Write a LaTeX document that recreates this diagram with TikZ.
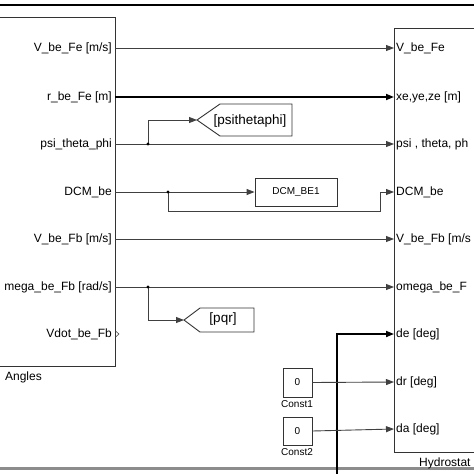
\documentclass[tikz,border=0pt]{standalone}
\usepackage{fontspec}
\setmainfont{Liberation Sans}
\usetikzlibrary{arrows.meta}
\begin{document}
\begin{tikzpicture}[x=1pt,y=-1pt,
  sig/.style={draw=black!75, line width=0.9pt, -{Triangle[length=8pt,width=6pt]}},
  vsig/.style={draw=black, line width=1.7pt, -{Triangle[length=8pt,width=6pt]}},
  wire/.style={draw=black!75, line width=0.9pt},
  block/.style={draw=black!80, line width=0.9pt, inner sep=0pt},
  plab/.style={inner sep=0pt, font=\fontsize{12}{14}\selectfont},
  slab/.style={inner sep=0pt, font=\fontsize{10}{12}\selectfont},
  glab/.style={inner sep=0pt, font=\fontsize{13.5}{15}\selectfont},
  dot/.style={fill=black, draw=none}
]
\useasboundingbox (0,0) rectangle (474,474);
\clip (0,0) rectangle (474,474);
\fill[white] (0,0) rectangle (474,474);

% frame lines
\draw[black, line width=1.2pt] (-5,5) -- (480,5);
\draw[black!45, line width=2.5pt] (-5,468.5) -- (480,468.5);

% blocks
\node[block, minimum width=135pt, minimum height=349pt] (L) at (47.5,191.5) {};
\node[block, minimum width=120pt, minimum height=424pt] (R) at (454,240) {};
\node[plab, anchor=east] (Lname) at (42,377) {Angles};
\node[plab, anchor=west] (Rname) at (419,463) {Hydrostat};

% left port labels
\node[plab, anchor=east] (l1) at (112,48) {V\_be\_Fe [m/s]};
\node[plab, anchor=east] (l2) at (112,97) {r\_be\_Fe [m]};
\node[plab, anchor=east] (l3) at (112,144) {psi\_theta\_phi};
\node[plab, anchor=east] (l4) at (112,192) {DCM\_be};
\node[plab, anchor=east] (l5) at (112,239) {V\_be\_Fb [m/s]};
\node[plab, anchor=east] (l6) at (112,287) {mega\_be\_Fb [rad/s]};
\node[plab, anchor=east] (l7) at (112,334) {Vdot\_be\_Fb};
\draw[black!70, line width=0.6pt] (115.5,331) -- (119,334) -- (115.5,337);

% right port labels
\node[plab, anchor=west] (r1) at (396,48) {V\_be\_Fe};
\node[plab, anchor=west] (r2) at (396,97) {xe,ye,ze [m]};
\node[plab, anchor=west] (r3) at (396,144) {psi , theta, ph};
\node[plab, anchor=west] (r4) at (396,192) {DCM\_be};
\node[plab, anchor=west] (r5) at (396,239) {V\_be\_Fb [m/s};
\node[plab, anchor=west] (r6) at (396,287) {omega\_be\_F};
\node[plab, anchor=west] (r7) at (396,334) {de [deg]};
\node[plab, anchor=west] (r8) at (396,382) {dr [deg]};
\node[plab, anchor=west] (r9) at (396,429) {da [deg]};

% port coordinates
\coordinate (lo1) at (115,48);
\coordinate (lo2) at (115,97);
\coordinate (lo3) at (115,144);
\coordinate (lo4) at (115,192);
\coordinate (lo5) at (115,239);
\coordinate (lo6) at (115,287);
\foreach \i/\y in {1/48,2/97,3/144,4/192,5/239,6/287,7/334,8/382,9/429}
  \coordinate (ri\i) at (394,\y);

% goto blocks
\coordinate (g1tip) at (197,120);
\draw[block] (g1tip) -- (220,104) -- (292,104) -- (292,136) -- (220,136) -- cycle;
\node[glab] (goto1) at (250,121) {[psithetaphi]};
\coordinate (g2tip) at (184,320);
\draw[block] (g2tip) -- (200,308) -- (254,308) -- (254,332) -- (200,332) -- cycle;
\node[glab] (goto2) at (223,319) {[pqr]};

% DCM_BE1 block
\node[block, minimum width=82pt, minimum height=28pt, slab] (dcm) at (296,192) {DCM\_BE1};

% constants
\node[block, minimum width=29pt, minimum height=29pt, slab] (c1) at (297.5,382.5) {0};
\node[slab, anchor=north] (c1l) at (297,400) {Const1};
\node[block, minimum width=29pt, minimum height=28pt, slab] (c2) at (297.5,431) {0};
\node[slab, anchor=north] (c2l) at (297,448) {Const2};

% connectors
\draw[sig] (lo1) -- (ri1);
\draw[vsig] (lo2) -- (ri2);
\draw[sig] (lo3) -- (ri3);
\coordinate (bp1) at (148,144);
\draw[sig] (bp1) |- (g1tip);
\fill[dot] (bp1) circle (1.6pt);

\draw[sig] (lo4) -- (dcm.west);
\coordinate (bp2) at (168,192);
\coordinate (k2) at (380,211);
\draw[sig] (bp2) |- (k2) |- (ri4);
\fill[dot] (bp2) circle (1.6pt);

\draw[sig] (lo5) -- (ri5);
\draw[sig] (lo6) -- (ri6);
\coordinate (bp3) at (148,287);
\draw[sig] (bp3) |- (g2tip);
\fill[dot] (bp3) circle (1.6pt);

\coordinate (de0) at (337,480);
\draw[vsig] (de0) |- (ri7);
\draw[sig] (c1.east) -- (ri8);
\draw[sig] (c2.east) -- (ri9);
\end{tikzpicture}
\end{document}
